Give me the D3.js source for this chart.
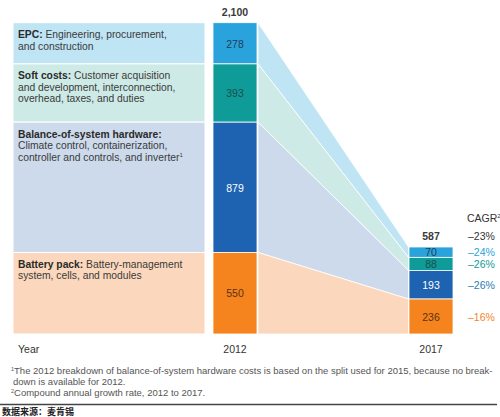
<!DOCTYPE html>
<html>
<head>
<meta charset="utf-8">
<script src="https://cdn.jsdelivr.net/npm/d3@7"></script>
<style>
  body { margin: 0; background: #fff; }
  svg { display: block; font-family: "Liberation Sans", Arial, sans-serif; }
</style>
</head>
<body>
<svg id="chart" width="500" height="417"></svg>
<script>
// data
const categories = ["EPC", "Soft costs", "Balance-of-system hardware", "Battery pack"];
const years = ["2012", "2017"];
const values2012 = [278, 393, 879, 550];
const values2017 = [70, 88, 193, 236];
const totals = [2100, 587];
const cagr = ["\u201324%", "\u201326%", "\u201326%", "\u201316%"];
const totalCagr = "\u201323%";

// label text per category: [bold part, rest of line, superscript]
const labelLines = [
  [["EPC:", " Engineering, procurement,"], ["", "and construction"]],
  [["Soft costs:", " Customer acquisition"], ["", "and development, interconnection,"], ["", "overhead, taxes, and duties"]],
  [["Balance-of-system hardware:", ""], ["", "Climate control, containerization,"], ["", "controller and controls, and inverter", "1"]],
  [["Battery pack:", " Battery-management"], ["", "system, cells, and modules"]]
];

const barColor = ["#2aa3dd", "#0f9b98", "#1e63b1", "#f5841f"];
const lightColor = ["#bfe4f4", "#cdeae6", "#ccdaeb", "#fbd8bd"];
const valueColor = ["#1d3f55", "#1d4f4d", "#ffffff", "#5a3213"];
const cagrColor = ["#2aa3dd", "#0f9b98", "#2a7db5", "#f5841f"];

const svg = d3.select("#chart");

const y = d3.scaleLinear().domain([0, 2100]).range([334, 22.7]);
const x = d3.scaleOrdinal().domain(years).range([235, 431]);
const barW = 44;

const stack = vals => {
  let acc = d3.sum(vals);
  return vals.map(v => { const top = acc; acc -= v; return { top, bottom: acc, v }; });
};
const s2012 = stack(values2012);
const s2017 = stack(values2017);

// bands connecting the two bars
const x0 = x("2012") + barW / 2 + 1;
const x1 = x("2017") - barW / 2 - 0.5;
svg.append("g")
  .selectAll("path")
  .data(categories)
  .join("path")
  .attr("d", (c, i) => {
    const a = s2012[i], b = s2017[i];
    return `M${x0},${y(a.top)}L${x1},${y(b.top)}L${x1},${y(b.bottom)}L${x0},${y(a.bottom)}Z`;
  })
  .attr("fill", (c, i) => lightColor[i])
  .attr("stroke", "#fff")
  .attr("stroke-width", 0.8);

// label panels on the left
svg.append("g")
  .selectAll("rect")
  .data(categories)
  .join("rect")
  .attr("x", 13)
  .attr("width", 192)
  .attr("y", (c, i) => y(s2012[i].top))
  .attr("height", (c, i) => y(s2012[i].bottom) - y(s2012[i].top))
  .attr("fill", (c, i) => lightColor[i])
  .attr("stroke", "#fff")
  .attr("stroke-width", 1);

const labelG = svg.append("g").attr("font-size", 10.3).attr("fill", "#3a3a3a");
labelLines.forEach((lines, i) => {
  const top = y(s2012[i].top);
  lines.forEach((ln, j) => {
    const t = labelG.append("text").attr("x", 18).attr("y", top + 15.5 + j * 11.5);
    if (ln[0]) t.append("tspan").attr("font-weight", "bold").attr("fill", "#2a2a2a").text(ln[0]);
    t.append("tspan").text(ln[1]);
    if (ln[2]) t.append("tspan").attr("font-size", 6).attr("dy", -4).text(ln[2]);
  });
});

// stacked bars
const bars = [s2012, s2017];
years.forEach((yr, k) => {
  const g = svg.append("g");
  g.selectAll("rect")
    .data(bars[k])
    .join("rect")
    .attr("x", x(yr) - barW / 2)
    .attr("width", barW)
    .attr("y", d => y(d.top))
    .attr("height", d => y(d.bottom) - y(d.top))
    .attr("fill", (d, i) => barColor[i])
    .attr("stroke", "#fff")
    .attr("stroke-width", 0.8);
  g.selectAll("text")
    .data(bars[k])
    .join("text")
    .attr("x", x(yr))
    .attr("y", d => (y(d.top) + y(d.bottom)) / 2 + 4.2)
    .attr("text-anchor", "middle")
    .attr("font-size", 10.5)
    .attr("fill", (d, i) => valueColor[i])
    .text(d => d.v);
  // total above bar
  svg.append("text")
    .attr("x", x(yr))
    .attr("y", y(totals[k]) - 7)
    .attr("text-anchor", "middle")
    .attr("font-size", 10.5)
    .attr("font-weight", "bold")
    .attr("fill", "#3a3a3a")
    .text(d3.format(",")(totals[k]));
  // year label
  svg.append("text")
    .attr("x", x(yr))
    .attr("y", 353)
    .attr("text-anchor", "middle")
    .attr("font-size", 10.5)
    .attr("fill", "#333")
    .text(yr);
});

svg.append("text").attr("x", 18).attr("y", 353).attr("font-size", 10.5).attr("fill", "#333").text("Year");

// CAGR column
const cx = 468;
const cagrHead = svg.append("text").attr("x", cx - 1).attr("y", 222).attr("font-size", 10.5).attr("fill", "#333");
cagrHead.append("tspan").text("CAGR");
cagrHead.append("tspan").attr("font-size", 6).attr("dy", -4).text("2");
svg.append("text").attr("x", cx).attr("y", y(totals[1]) - 7).attr("font-size", 10.5).attr("fill", "#333").text(totalCagr);
svg.append("g")
  .selectAll("text")
  .data(cagr)
  .join("text")
  .attr("x", cx)
  .attr("y", (d, i) => (y(s2017[i].top) + y(s2017[i].bottom)) / 2 + 4)
  .attr("font-size", 10.5)
  .attr("fill", (d, i) => cagrColor[i])
  .text(d => d);

// footnotes
const notes = svg.append("g").attr("font-size", 9.5).attr("fill", "#555");
const n1 = notes.append("text").attr("x", 11).attr("y", 374);
n1.append("tspan").attr("font-size", 5.5).attr("dy", -3).text("1");
n1.append("tspan").attr("dy", 3).text("The 2012 breakdown of balance-of-system hardware costs is based on the split used for 2015, because no break-");
notes.append("text").attr("x", 13).attr("y", 385).text("down is available for 2012.");
const n2 = notes.append("text").attr("x", 11).attr("y", 396);
n2.append("tspan").attr("font-size", 5.5).attr("dy", -3).text("2");
n2.append("tspan").attr("dy", 3).text("Compound annual growth rate, 2012 to 2017.");

svg.append("line").attr("x1", 0).attr("x2", 497).attr("y1", 404.5).attr("y2", 404.5)
  .attr("stroke", "#444").attr("stroke-width", 1.3);

svg.append("text")
  .attr("x", 2).attr("y", 415)
  .attr("font-family", "'Noto Sans CJK SC', sans-serif")
  .attr("font-size", 9)
  .attr("font-weight", "bold")
  .attr("fill", "#222")
  .text("数据来源：麦肯锡");
</script>
</body>
</html>
